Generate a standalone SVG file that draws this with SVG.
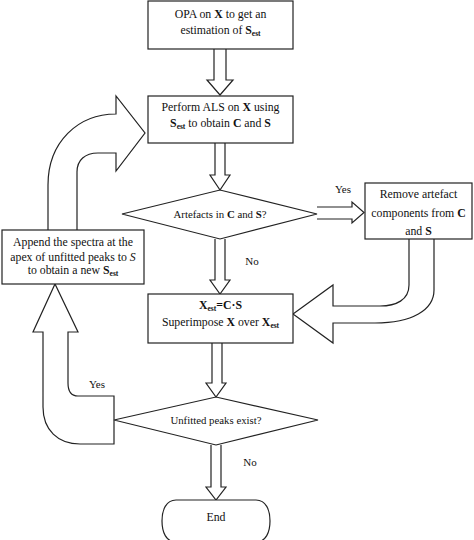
<svg xmlns="http://www.w3.org/2000/svg" width="474" height="540" viewBox="0 0 474 540">
<style>
.b{fill:#fff;stroke:#222;stroke-width:1.2}
.a{fill:#fff;stroke:#222;stroke-width:1.2;stroke-linejoin:miter}
text{font-family:"Liberation Serif","Times New Roman",serif;fill:#111;text-anchor:middle}
.t{font-size:11.8px}
.d{font-size:10.8px}
.l{font-size:11px}
.s{font-size:7.5px;font-weight:bold}
.bb{font-weight:bold}
</style>
<rect width="474" height="540" fill="#fff"/>
<g id="connectors">
<path class="a" d="M214,49 V80 H207 L220,95 L233,80 H226 V49"/>
<path class="a" d="M215,143 V175 H210 L220,190 L230,175 H225 V143"/>
<path class="a" d="M215,239 V280 H210 L220,294 L230,280 H225 V239"/>
<path class="a" d="M212,343 V383 H206 L216,397 L226,383 H222 V343"/>
<path class="a" d="M211,445 V487 H206 L216,500 L226,487 H221 V445"/>
<path class="a" d="M317,207 H352 V202 L364,212.5 L352,223 V219 H317"/>
<path class="a" d="M409,239 V285 C409,300 396,306 380,306 H333 V285 L293,314 L333,343 V323 H375 C412,323 434,310 434,290 V239"/>
<path class="a" d="M48,230 V185 C48,142 78,114 116,114 V96 L145,133 L116,171 V153 H98 C85,153 77,160 77,172 V230"/>
<path class="a" d="M114,396 H78 C72,396 68,392 68,383 V332 H78 L55,284 L33,332 H43 V407 C43,430 58,444 80,444 H114 Z"/>
<text class="l" x="343" y="193">Yes</text>
<text class="l" x="252" y="265">No</text>
<text class="l" x="97" y="388">Yes</text>
<text class="l" x="250" y="466">No</text>
</g>
<g id="opa">
<rect class="b" x="148" y="1" width="145" height="48"/>
<text class="t" x="220.5" y="18">OPA on <tspan class="bb">X</tspan> to get an</text>
<text class="t" x="220.5" y="34">estimation of <tspan class="bb">S</tspan><tspan class="s" dy="2">est</tspan></text>
</g>
<g id="als">
<rect class="b" x="148" y="96" width="145" height="47"/>
<text class="t" x="220.5" y="111">Perform ALS on <tspan class="bb">X</tspan> using</text>
<text class="t" x="220.5" y="127"><tspan class="bb">S</tspan><tspan class="s" dy="2">est</tspan><tspan dy="-2"> to obtain </tspan><tspan class="bb">C</tspan> and <tspan class="bb">S</tspan></text>
</g>
<g id="artefacts">
<polygon class="b" points="122,214 220,190 317,214 220,239"/>
<text class="d" x="220" y="218">Artefacts in <tspan class="bb">C</tspan> and <tspan class="bb">S</tspan>?</text>
</g>
<g id="remove">
<rect class="b" x="365" y="183" width="107" height="56"/>
<text class="t" x="418.5" y="198">Remove artefact</text>
<text class="t" x="418.5" y="217">components from <tspan class="bb">C</tspan></text>
<text class="t" x="418.5" y="235">and <tspan class="bb">S</tspan></text>
</g>
<g id="superimpose">
<rect class="b" x="148" y="294" width="145" height="49"/>
<text class="t" x="220.5" y="309"><tspan class="bb">X</tspan><tspan class="s" dy="2">est</tspan><tspan class="bb" dy="-2">=C·S</tspan></text>
<text class="t" x="220.5" y="326">Superimpose <tspan class="bb">X</tspan> over <tspan class="bb">X</tspan><tspan class="s" dy="2">est</tspan></text>
</g>
<g id="append">
<rect class="b" x="2" y="230" width="142" height="54"/>
<text class="t" x="73" y="246" font-size="12">Append the spectra at the</text>
<text class="t" x="73" y="261">apex of unfitted peaks to <tspan font-style="italic">S</tspan></text>
<text class="t" x="73" y="274">to obtain a new <tspan class="bb">S</tspan><tspan class="s" dy="2">est</tspan></text>
</g>
<g id="unfitted">
<polygon class="b" points="114,420 216,397 318,420 216,445"/>
<text class="d" x="216" y="424">Unfitted peaks exist?</text>
</g>
<g id="end">
<path class="b" d="M176,500 H256 C266,500 270,510 270,521 C270,532 266,542 256,542 H176 C166,542 162,532 162,521 C162,510 166,500 176,500 Z"/>
<text class="t" x="216" y="521">End</text>
</g>
</svg>
